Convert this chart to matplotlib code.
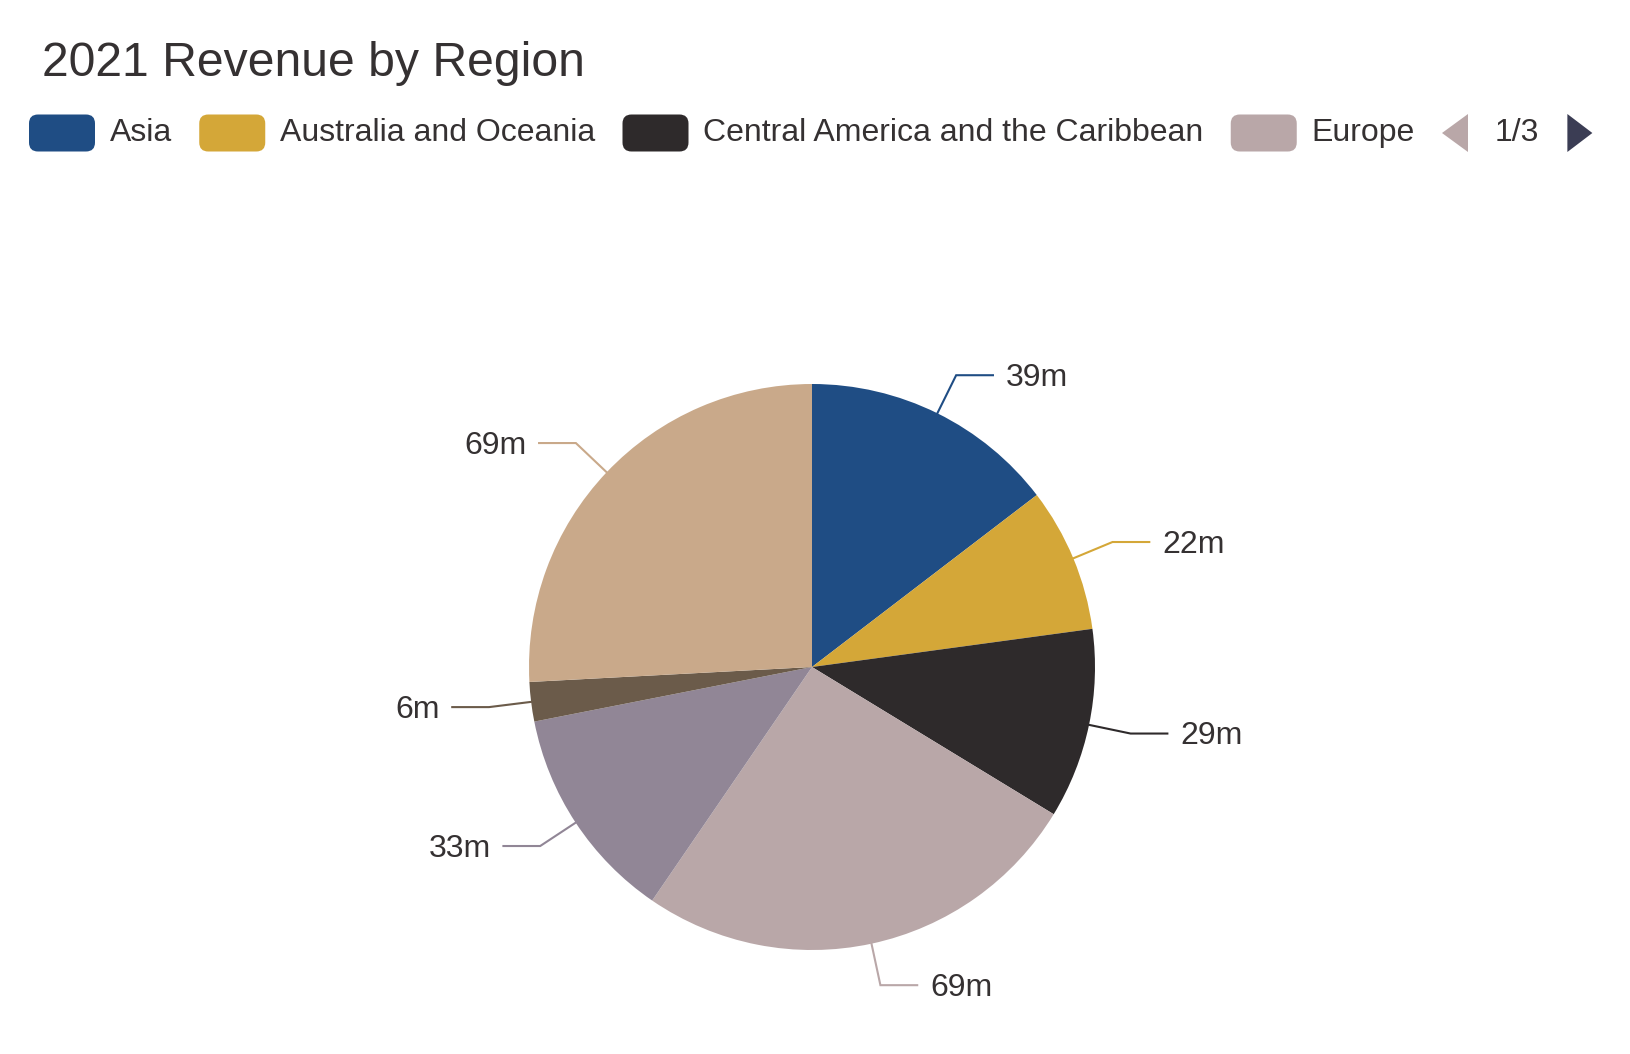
import matplotlib
matplotlib.use('Agg')
import matplotlib.pyplot as plt
import numpy as np
from matplotlib.patches import FancyBboxPatch, Polygon

plt.rcParams['font.family'] = ['Liberation Sans', 'DejaVu Sans']

# datos
regiones = ['Asia', 'Australia and Oceania', 'Central America and the Caribbean',
            'Europe', 'Middle East and North Africa', 'North America', 'Sub-Saharan Africa']
ingresos = [39, 22, 29, 69, 33, 6, 69]   # millones
etiquetas = ['39m', '22m', '29m', '69m', '33m', '6m', '69m']
colores = ['#1f4d84', '#d4a738', '#2e2a2b', '#b9a7a8', '#918696', '#6b5b4a', '#c9a98a']
legend_visible = 4   # pagina 1/3 de la leyenda
pagina = '1/3'

texto = '#353132'

W, H = 1630, 1054
fig = plt.figure(figsize=(W / 100, H / 100), dpi=100)

# capa en pixeles para titulo y leyenda
capa = fig.add_axes([0, 0, 1, 1])
capa.set_xlim(0, W)
capa.set_ylim(H, 0)
capa.axis('off')

capa.text(42, 64, '2021 Revenue by Region', fontsize=34.7, color=texto, va='center', ha='left')

# ----- pie -----
cx, cy, R = 812, 667, 283
ax = fig.add_axes([(cx - R) / W, (H - cy - R) / H, 2 * R / W, 2 * R / H])
wedges, _ = ax.pie(ingresos, colors=colores, startangle=90, counterclock=False,
                   radius=1, wedgeprops=dict(linewidth=0))
ax.set_xlim(-1, 1)
ax.set_ylim(-1, 1)
ax.set_aspect('equal')
ax.axis('off')

# lineas guia y etiquetas
for w, lab, col in zip(wedges, etiquetas, colores):
    ang = np.deg2rad((w.theta1 + w.theta2) / 2)
    x0, y0 = np.cos(ang), np.sin(ang)
    x1, y1 = 1.15 * x0, 1.15 * y0
    lado = 1 if x0 >= 0 else -1
    x2 = x1 + lado * 0.13
    ax.plot([x0, x1, x2], [y0, y1, y1], color=col, lw=1.5, clip_on=False,
            solid_joinstyle='miter')
    ax.text(x2 + lado * 0.045, y1 - 0.01, lab, fontsize=23, color=texto,
            ha='left' if lado > 0 else 'right', va='center', clip_on=False)

# ----- leyenda -----
fig.canvas.draw()
rend = fig.canvas.get_renderer()
ly = 133
x = 29
sw, sh = 66, 37
for nombre, col in zip(regiones[:legend_visible], colores[:legend_visible]):
    capa.add_patch(FancyBboxPatch((x, ly - sh / 2), sw, sh,
                                  boxstyle='round,pad=0,rounding_size=9',
                                  facecolor=col, edgecolor='none'))
    t = capa.text(x + sw + 14.5, ly, nombre, fontsize=23, color=texto,
                  ha='left', va='center')
    ancho = t.get_window_extent(rend).width
    x = x + sw + 14.5 + ancho + 27.5

# flechas de paginacion
capa.add_patch(Polygon([[x + 26, ly - 19], [x + 26, ly + 19], [x, ly]],
                       closed=True, facecolor='#b9a7a8', edgecolor='none'))
t = capa.text(x + 53, ly, pagina, fontsize=23, color=texto, ha='left', va='center')
xa = x + 53 + t.get_window_extent(rend).width + 28
capa.add_patch(Polygon([[xa, ly - 19], [xa, ly + 19], [xa + 25, ly]],
                       closed=True, facecolor='#3b3d54', edgecolor='none'))

fig.savefig('out.png', dpi=100, facecolor='white')
